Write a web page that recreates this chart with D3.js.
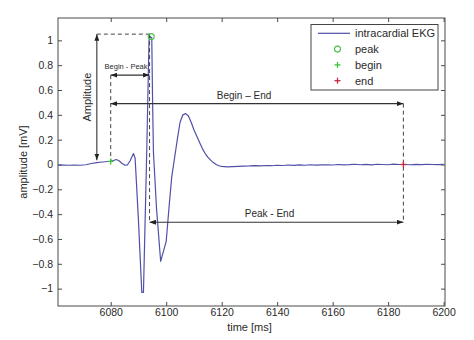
<!DOCTYPE html>
<html>
<head>
<meta charset="utf-8">
<script src="https://cdn.jsdelivr.net/npm/d3@7"></script>
<style>
  html, body { margin: 0; padding: 0; background: #fff; }
  svg { display: block; font-family: "Liberation Sans", Arial, sans-serif; }
</style>
</head>
<body>
<svg id="chart" width="474" height="340"></svg>
<script>
// Intracardial EKG trace: time [ms] and amplitude [mV]
const timeMs = [
  6061, 6063, 6065, 6067, 6069, 6071, 6073, 6075, 6077, 6078, 6079, 6080,
  6081, 6082, 6083, 6084, 6085, 6086, 6087, 6088.2, 6088.8, 6090, 6091.2, 6091.8,
  6093, 6093.8, 6094.3, 6094.8, 6095.1, 6095.4, 6096.5, 6098, 6099, 6100,
  6101, 6102, 6103, 6104, 6105, 6106, 6107, 6108, 6109, 6110, 6111, 6112,
  6113, 6114, 6115, 6116, 6117, 6118, 6119, 6120, 6122, 6124, 6126, 6128,
  6130, 6132, 6134, 6136, 6138, 6140, 6142, 6144, 6146, 6148, 6150, 6152,
  6154, 6156, 6158, 6160, 6162, 6164, 6166, 6168, 6170, 6172, 6174, 6176,
  6178, 6180, 6182, 6184, 6186, 6188, 6190, 6192, 6194, 6196, 6198, 6200
];
const amplitudeMv = [
  -0.005, -0.004, -0.006, -0.004, -0.006, -0.002, 0.008, 0.015, 0.02, 0.022, 0.024, 0.025,
  0.032, 0.04, 0.03, 0.01, -0.005, -0.004, 0.03, 0.088, 0.05, -0.45, -1.03, -1.03,
  0.115, 1.0, 1.03, 1.02, 0.5, 0.1, -0.35, -0.78, -0.7, -0.62,
  -0.35, -0.1, 0.05, 0.2, 0.34, 0.4, 0.41, 0.39, 0.34, 0.28, 0.23, 0.18,
  0.13, 0.09, 0.06, 0.035, 0.015, 0.0, -0.01, -0.015, -0.02, -0.018, -0.015, -0.013,
  -0.012, -0.01, -0.011, -0.008, -0.01, -0.006, -0.008, -0.004, -0.007, -0.003, -0.006, -0.002,
  -0.005, -0.003, -0.002, -0.004, 0.0, -0.003, -0.001, 0.002, -0.002, 0.001, -0.003, 0.002,
  0.0, -0.002, 0.003, 0.0, 0.0, -0.002, 0.001, -0.001, 0.002, 0.0, -0.001, 0.001
];

// Detected fiducial points
const peakPoint = [6094.6, 1.03];
const beginPoint = [6080, 0.025];
const endPoint = [6185.5, 0.0];

// Axis ticks
const xTicks = [6080, 6100, 6120, 6140, 6160, 6180, 6200];
const yTicks = [-1, -0.8, -0.6, -0.4, -0.2, 0, 0.2, 0.4, 0.6, 0.8, 1];

// Measurement annotations (times in ms, levels in mV)
const amplitudeTime = 6075;
const amplitudeTop = 1.05;
const amplitudeBottom = 0.035;
const peakRefTime = 6094;
const beginPeakLevel = 0.72;
const beginEndLevel = 0.49;
const peakEndLevel = -0.465;

const legendLabels = ["intracardial EKG", "peak", "begin", "end"];

const W = 474, H = 340;
const plot = { left: 58, right: 445, top: 18, bottom: 306 };
const x = d3.scaleLinear().domain([6061, 6200.5]).range([plot.left, plot.right]);
const y = d3.scaleLinear().domain([-1.14, 1.18]).range([plot.bottom, plot.top]);

const svg = d3.select("#chart");
const axisColor = "#4a4a4a";
const textColor = "#2a2a2a";
const traceColor = "#5050a8";
const annColor = "#333";

const defs = svg.append("defs");
defs.append("clipPath").attr("id", "plotClip")
  .append("rect")
  .attr("x", plot.left).attr("y", plot.top)
  .attr("width", plot.right - plot.left).attr("height", plot.bottom - plot.top);
defs.append("marker")
  .attr("id", "arrowHead")
  .attr("viewBox", "0 0 8 6")
  .attr("refX", 8).attr("refY", 3)
  .attr("markerWidth", 6.5).attr("markerHeight", 5)
  .attr("markerUnits", "userSpaceOnUse")
  .attr("orient", "auto-start-reverse")
  .append("path").attr("d", "M0,0 L8,3 L0,6 Z").attr("fill", "#222");

// Axes box
svg.append("rect")
  .attr("x", plot.left).attr("y", plot.top)
  .attr("width", plot.right - plot.left).attr("height", plot.bottom - plot.top)
  .attr("fill", "none").attr("stroke", axisColor).attr("stroke-width", 1);

function styleAxis(g, showText) {
  g.select(".domain").remove();
  g.selectAll(".tick line").attr("stroke", axisColor);
  g.selectAll(".tick text")
    .attr("fill", textColor)
    .style("font-size", "10.5px")
    .style("font-family", "'Liberation Sans', Arial, sans-serif")
    .style("display", showText ? null : "none");
}

const fmtY = d => (d === 0 ? "0" : d3.format("")(+d.toFixed(1)));

svg.append("g")
  .attr("transform", `translate(0,${plot.bottom})`)
  .call(d3.axisBottom(x).tickValues(xTicks).tickSize(-4).tickPadding(3).tickFormat(d3.format("d")))
  .call(g => styleAxis(g, true));
svg.append("g")
  .attr("transform", `translate(0,${plot.top})`)
  .call(d3.axisTop(x).tickValues(xTicks).tickSize(-4))
  .call(g => styleAxis(g, false));
svg.append("g")
  .attr("transform", `translate(${plot.left},0)`)
  .call(d3.axisLeft(y).tickValues(yTicks).tickSize(-4).tickPadding(5).tickFormat(fmtY))
  .call(g => styleAxis(g, true));
svg.append("g")
  .attr("transform", `translate(${plot.right},0)`)
  .call(d3.axisRight(y).tickValues(yTicks).tickSize(-4))
  .call(g => styleAxis(g, false));

// Axis titles
svg.append("text")
  .attr("x", (plot.left + plot.right) / 2 - 2).attr("y", 331)
  .attr("text-anchor", "middle").attr("fill", textColor)
  .style("font-size", "11px")
  .text("time [ms]");
svg.append("text")
  .attr("transform", `translate(27,${(plot.top + plot.bottom) / 2}) rotate(-90)`)
  .attr("text-anchor", "middle").attr("fill", textColor)
  .style("font-size", "11px")
  .text("amplitude [mV]");

// EKG trace
const traceData = timeMs.map((t, i) => [t, amplitudeMv[i]]);
svg.append("path")
  .datum(traceData)
  .attr("clip-path", "url(#plotClip)")
  .attr("fill", "none")
  .attr("stroke", traceColor)
  .attr("stroke-width", 1.2)
  .attr("stroke-linejoin", "round")
  .attr("d", d3.line().x(d => x(d[0])).y(d => y(d[1])));

// Dashed guide lines
const dashed = [
  [[amplitudeTime, amplitudeTop], [peakPoint[0], amplitudeTop]],
  [[peakRefTime, amplitudeTop], [peakRefTime, peakEndLevel]],
  [[beginPoint[0], beginPeakLevel], [beginPoint[0], beginPoint[1]]],
  [[endPoint[0], beginEndLevel], [endPoint[0], peakEndLevel]]
];
svg.append("g").selectAll("line").data(dashed).join("line")
  .attr("x1", d => x(d[0][0])).attr("y1", d => y(d[0][1]))
  .attr("x2", d => x(d[1][0])).attr("y2", d => y(d[1][1]))
  .attr("stroke", "#444").attr("stroke-width", 1)
  .attr("stroke-dasharray", "4,3");

// Double-headed measurement arrows
const arrows = [
  [[amplitudeTime, amplitudeTop], [amplitudeTime, amplitudeBottom]],
  [[beginPoint[0], beginPeakLevel], [peakRefTime, beginPeakLevel]],
  [[beginPoint[0], beginEndLevel], [endPoint[0], beginEndLevel]],
  [[peakRefTime, peakEndLevel], [endPoint[0], peakEndLevel]]
];
svg.append("g").selectAll("line").data(arrows).join("line")
  .attr("x1", d => x(d[0][0])).attr("y1", d => y(d[0][1]))
  .attr("x2", d => x(d[1][0])).attr("y2", d => y(d[1][1]))
  .attr("stroke", annColor).attr("stroke-width", 1.1)
  .attr("marker-start", "url(#arrowHead)")
  .attr("marker-end", "url(#arrowHead)");

// Arrow labels
svg.append("text")
  .attr("transform", `translate(${x(amplitudeTime) - 6},${y((amplitudeTop + amplitudeBottom) / 2)}) rotate(-90)`)
  .attr("text-anchor", "middle").attr("fill", textColor)
  .style("font-size", "11px")
  .text("Amplitude");
svg.append("text")
  .attr("x", x(peakRefTime) - 2).attr("y", y(beginPeakLevel) - 6)
  .attr("text-anchor", "end").attr("fill", textColor)
  .style("font-size", "7.5px")
  .text("Begin - Peak");
svg.append("text")
  .attr("x", x((beginPoint[0] + endPoint[0]) / 2) - 13).attr("y", y(beginEndLevel) - 4.5)
  .attr("text-anchor", "middle").attr("fill", textColor)
  .style("font-size", "10px")
  .text("Begin \u2013 End");
svg.append("text")
  .attr("x", x((peakRefTime + endPoint[0]) / 2) - 7).attr("y", y(peakEndLevel) - 5)
  .attr("text-anchor", "middle").attr("fill", textColor)
  .style("font-size", "10px")
  .text("Peak - End");

// Fiducial markers
function plusMarker(g, cx, cy, color, size) {
  g.append("line").attr("x1", cx - size).attr("x2", cx + size).attr("y1", cy).attr("y2", cy)
    .attr("stroke", color).attr("stroke-width", 1.3);
  g.append("line").attr("x1", cx).attr("x2", cx).attr("y1", cy - size).attr("y2", cy + size)
    .attr("stroke", color).attr("stroke-width", 1.3);
}
const markers = svg.append("g");
markers.append("circle")
  .attr("cx", x(peakPoint[0])).attr("cy", y(peakPoint[1])).attr("r", 3)
  .attr("fill", "none").attr("stroke", "#4cc04c").attr("stroke-width", 1.1);
plusMarker(markers, x(beginPoint[0]), y(beginPoint[1]), "#3cc43c", 3);
plusMarker(markers, x(endPoint[0]), y(endPoint[1]), "#c8283c", 3);

// Legend
const legend = svg.append("g").attr("transform", "translate(311,24.5)");
legend.append("rect")
  .attr("width", 127).attr("height", 65.5)
  .attr("fill", "#fff").attr("stroke", "#444").attr("stroke-width", 1);
const rowY = i => 8.8 + i * 15.8;
legend.append("line")
  .attr("x1", 7).attr("x2", 39).attr("y1", rowY(0)).attr("y2", rowY(0))
  .attr("stroke", traceColor).attr("stroke-width", 1.2);
legend.append("circle")
  .attr("cx", 26.5).attr("cy", rowY(1)).attr("r", 3)
  .attr("fill", "none").attr("stroke", "#4cc04c").attr("stroke-width", 1.1);
plusMarker(legend, 26.5, rowY(2), "#3cc43c", 3);
plusMarker(legend, 26.5, rowY(3), "#c8283c", 3);
legend.selectAll("text.lbl").data(legendLabels).join("text")
  .attr("class", "lbl")
  .attr("x", 44).attr("y", (d, i) => rowY(i) + 4)
  .attr("fill", textColor)
  .style("font-size", "11px")
  .text(d => d);
</script>
</body>
</html>
